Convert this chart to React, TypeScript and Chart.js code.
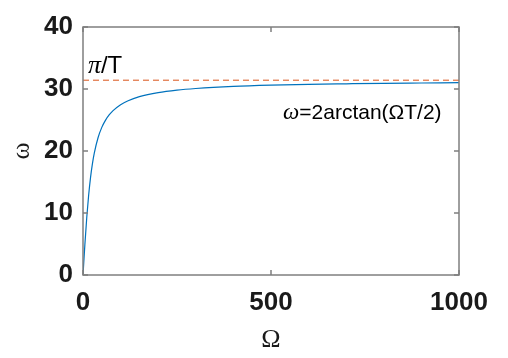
import React, { useEffect, useRef } from "react";
import { Chart, registerables } from "chart.js";

Chart.register(...registerables);

// Ω (analog frequency) samples and the read-off warped frequency ω
const omegaAnalog = [0, 2, 5, 10, 15, 20, 25, 30, 40, 50, 60, 70, 80, 100, 120, 150, 200, 250, 300, 400, 500, 600, 700, 800, 900, 1000];
const omegaDigital = [0, 1.99, 4.9, 9.27, 12.87, 15.71, 17.92, 19.66, 22.14, 23.81, 24.98, 25.85, 26.52, 27.47, 28.11, 28.76, 29.42, 29.82, 30.08, 30.42, 30.62, 30.75, 30.84, 30.92, 30.97, 31.02];

// asymptote π/T
const asymptoteX = [0, 1000];
const asymptoteY = [31.42, 31.42];

const xTickValues = [0, 500, 1000];
const yTickValues = [0, 10, 20, 30, 40];

const asymptoteLabel = "/T";
const curveLabel = "=2arctan(ΩT/2)";

export default function App() {
  const ref = useRef<HTMLCanvasElement | null>(null);

  useEffect(() => {
    const canvas = ref.current;
    if (!canvas) return;

    const boxPlugin = {
      id: "matlabBox",
      afterDraw(chart: any) {
        const { ctx, chartArea: a, scales } = chart;
        const xs = scales.x;
        const ys = scales.y;
        ctx.save();
        ctx.strokeStyle = "#7f7f7f";
        ctx.lineWidth = 1.5;
        ctx.strokeRect(a.left, a.top, a.right - a.left, a.bottom - a.top);
        const tl = 5;
        ctx.beginPath();
        xTickValues.forEach((v) => {
          const px = xs.getPixelForValue(v);
          ctx.moveTo(px, a.bottom);
          ctx.lineTo(px, a.bottom - tl);
          ctx.moveTo(px, a.top);
          ctx.lineTo(px, a.top + tl);
        });
        yTickValues.forEach((v) => {
          const py = ys.getPixelForValue(v);
          ctx.moveTo(a.left, py);
          ctx.lineTo(a.left + tl, py);
          ctx.moveTo(a.right, py);
          ctx.lineTo(a.right - tl, py);
        });
        ctx.stroke();

        // annotations
        ctx.fillStyle = "#000000";
        ctx.textBaseline = "alphabetic";
        ctx.textAlign = "left";
        let px = xs.getPixelForValue(13);
        let py = ys.getPixelForValue(32.6);
        ctx.font = "italic 26px 'Liberation Serif'";
        ctx.fillText("π", px, py);
        px += ctx.measureText("π").width;
        ctx.font = "24px 'Liberation Sans'";
        ctx.fillText(asymptoteLabel, px, py);

        px = xs.getPixelForValue(532);
        py = ys.getPixelForValue(25.2);
        ctx.font = "italic 23px 'Liberation Serif'";
        ctx.fillText("ω", px, py);
        px += ctx.measureText("ω").width;
        ctx.font = "21px 'Liberation Sans'";
        ctx.fillText(curveLabel, px, py);
        ctx.restore();
      },
    };

    const chart = new Chart(canvas, {
      type: "line",
      data: {
        datasets: [
          {
            label: "ω",
            data: omegaAnalog.map((x, i) => ({ x, y: omegaDigital[i] })),
            borderColor: "#0072BD",
            borderWidth: 1.2,
            pointRadius: 0,
            cubicInterpolationMode: "monotone",
            fill: false,
          },
          {
            label: "π/T",
            data: asymptoteX.map((x, i) => ({ x, y: asymptoteY[i] })),
            borderColor: "#D95319",
            borderWidth: 1,
            borderDash: [6, 4],
            pointRadius: 0,
            fill: false,
          },
        ],
      },
      options: {
        animation: false,
        responsive: false,
        devicePixelRatio: 1,
        layout: { padding: { left: 0, right: 49, top: 27, bottom: 0 } },
        plugins: { legend: { display: false }, tooltip: { enabled: false } },
        scales: {
          x: {
            type: "linear",
            min: 0,
            max: 1000,
            afterFit: (s: any) => {
              s.height = 83;
            },
            afterBuildTicks: (s: any) => {
              s.ticks = xTickValues.map((value) => ({ value }));
            },
            grid: { display: false, drawTicks: false },
            border: { display: false },
            ticks: {
              padding: 12,
              color: "#1a1a1a",
              font: { family: "'Liberation Sans'", size: 26, weight: "bold" },
              maxRotation: 0,
              callback: (v: any) => String(v),
            },
            title: {
              display: true,
              text: "Ω",
              color: "#1a1a1a",
              font: { family: "'Liberation Serif'", size: 26, lineHeight: 1 },
              padding: { top: 0, bottom: 5 },
            },
          },
          y: {
            type: "linear",
            min: 0,
            max: 40,
            afterFit: (s: any) => {
              s.width = 83;
            },
            afterBuildTicks: (s: any) => {
              s.ticks = yTickValues.map((value) => ({ value }));
            },
            grid: { display: false, drawTicks: false },
            border: { display: false },
            ticks: {
              padding: 10,
              color: "#1a1a1a",
              font: { family: "'Liberation Sans'", size: 26, weight: "bold" },
              callback: (v: any) => String(v),
            },
            title: {
              display: true,
              text: "ω",
              color: "#1a1a1a",
              font: { family: "'Liberation Serif'", size: 26, lineHeight: 1 },
              padding: { top: 9, bottom: 0 },
            },
          },
        },
      },
      plugins: [boxPlugin],
    } as any);

    return () => chart.destroy();
  }, []);

  return (
    <div style={{ position: "absolute", left: 0, top: 0, width: 508, height: 358, background: "#ffffff", overflow: "hidden" }}>
      <canvas ref={ref} width={508} height={358} style={{ width: 508, height: 358, display: "block" }} />
    </div>
  );
}
